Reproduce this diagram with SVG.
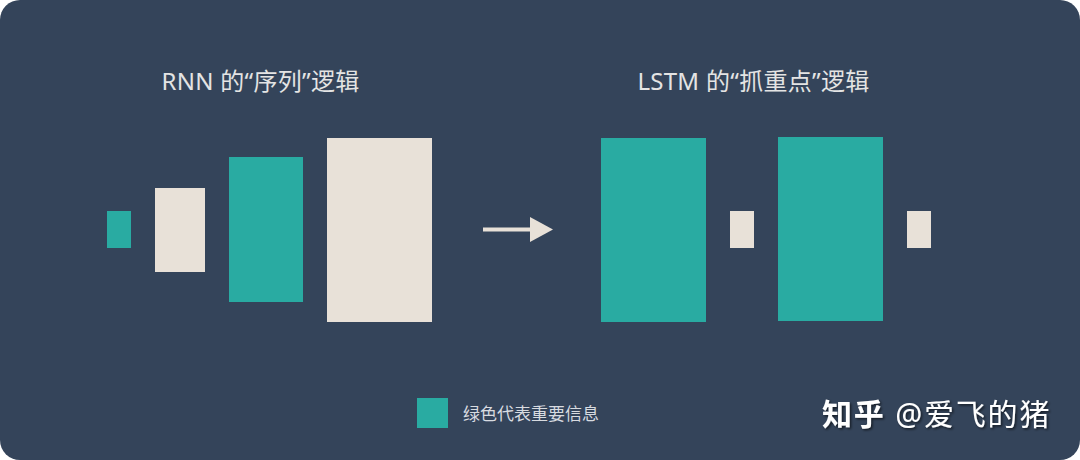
<svg xmlns="http://www.w3.org/2000/svg" width="1080" height="460" viewBox="0 0 1080 460">
  <defs>
    <style>
      .teal { fill: #29aba2; }
      .beige { fill: #e8e1d8; }
      .title { font-family: "Noto Sans", "Noto Sans CJK SC", sans-serif; font-size: 24px; fill: #e4e4e4; text-anchor: middle; letter-spacing: 0.3px; }
      .legend { font-family: "Noto Sans", "Noto Sans CJK SC", sans-serif; font-size: 17px; fill: #d8dbe0; }
      .mark { font-family: "Noto Sans", "Noto Sans CJK SC", sans-serif; font-size: 30px; fill: #ffffff; letter-spacing: 1.8px; }
    </style>
    <filter id="shadow" x="-10%" y="-30%" width="120%" height="160%">
      <feDropShadow dx="1.5" dy="1.5" stdDeviation="1" flood-color="#000000" flood-opacity="0.6"/>
    </filter>
  </defs>
  <rect x="0" y="0" width="1080" height="460" fill="#ffffff"/>
  <rect id="background" x="0" y="0" width="1080" height="460" rx="20" ry="20" fill="#34445a"/>

  <g id="title-rnn"><text class="title" x="260.5" y="90">RNN 的“序列”逻辑</text></g>
  <g id="title-lstm"><text class="title" x="753.5" y="90">LSTM 的“抓重点”逻辑</text></g>

  <g id="rnn-1"><rect class="teal" x="107" y="211" width="24" height="37"/></g>
  <g id="rnn-2"><rect class="beige" x="155" y="188" width="50" height="84"/></g>
  <g id="rnn-3"><rect class="teal" x="229" y="157" width="74" height="145"/></g>
  <g id="rnn-4"><rect class="beige" x="327" y="138" width="105" height="184"/></g>

  <g id="lstm-1"><rect class="teal" x="601" y="138" width="105" height="184"/></g>
  <g id="lstm-2"><rect class="beige" x="730" y="211" width="24" height="37"/></g>
  <g id="lstm-3"><rect class="teal" x="778" y="137" width="105" height="184"/></g>
  <g id="lstm-4"><rect class="beige" x="907" y="211" width="24" height="37"/></g>

  <g id="connectors">
    <line x1="483" y1="229.5" x2="532" y2="229.5" stroke="#e8e1d8" stroke-width="4"/>
    <polygon points="530,217 553,229.5 530,242" fill="#e8e1d8"/>
  </g>

  <g id="legend">
    <rect class="teal" x="417" y="398" width="31" height="30"/>
    <text class="legend" x="463" y="420">绿色代表重要信息</text>
  </g>

  <g id="watermark" filter="url(#shadow)">
    <text class="mark" x="822" y="425"><tspan font-weight="bold">知乎</tspan> @爱飞的猪</text>
  </g>
</svg>
